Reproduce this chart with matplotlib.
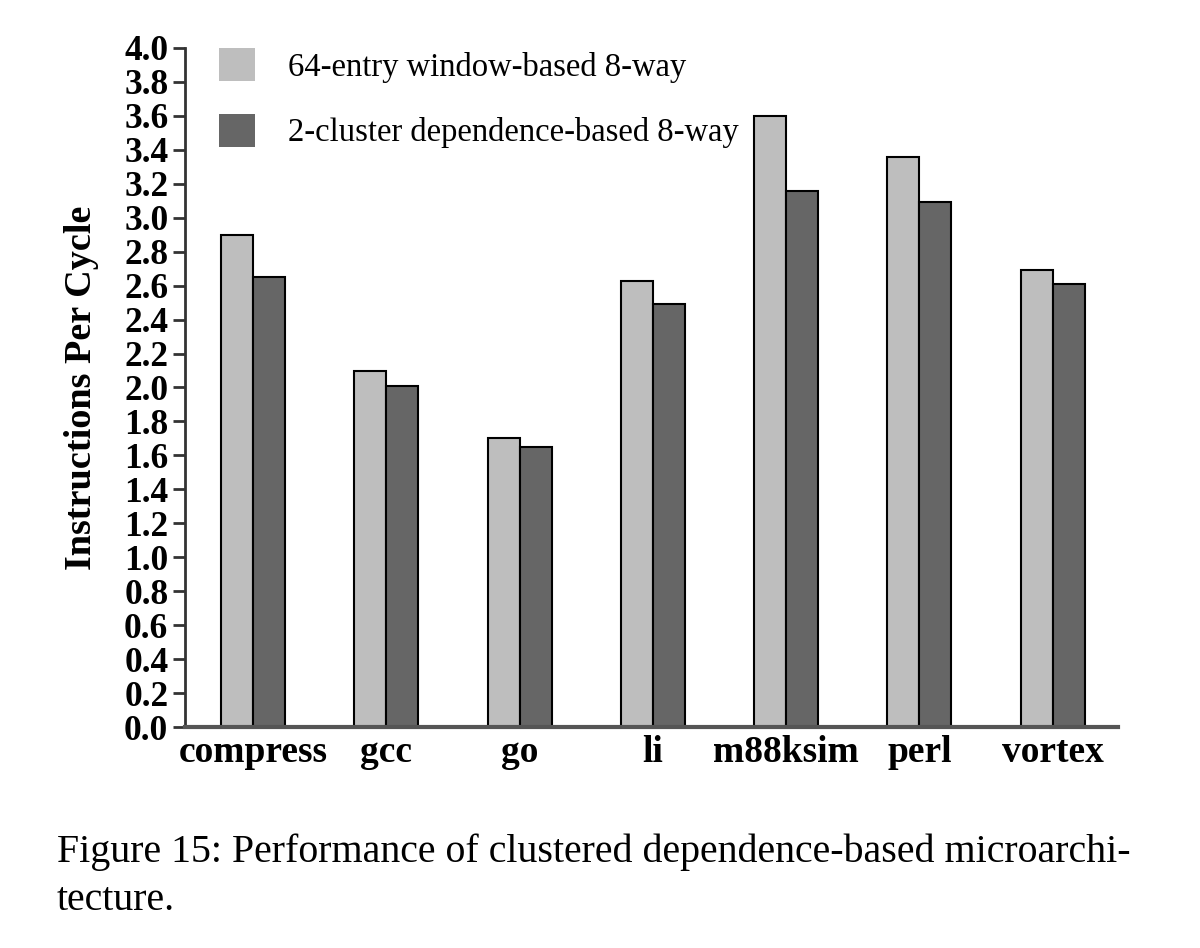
import matplotlib
matplotlib.use("Agg")
import matplotlib.pyplot as plt
import numpy as np

benchmarks = ["compress", "gcc", "go", "li", "m88ksim", "perl", "vortex"]
window_8way = [2.90, 2.10, 1.70, 2.63, 3.60, 3.36, 2.69]
cluster_8way = [2.65, 2.01, 1.65, 2.49, 3.16, 3.09, 2.61]
series_labels = ["64-entry window-based 8-way", "2-cluster dependence-based 8-way"]
yticks = [round(0.2 * i, 1) for i in range(21)]

plt.rcParams['font.family'] = ['Liberation Serif', 'DejaVu Serif']

fig = plt.figure(figsize=(12, 9.48), dpi=100)
ax = fig.add_axes([0.1542, 0.2331, 0.7775, 0.7163])

x = np.arange(len(benchmarks))
w = 0.24
ax.bar(x - w / 2, window_8way, w, color="#bebebe", edgecolor="black", linewidth=1.5,
       label=series_labels[0])
ax.bar(x + w / 2, cluster_8way, w, color="#666666", edgecolor="black", linewidth=1.5,
       label=series_labels[1])

ax.set_xlim(-0.51, 6.49)
ax.set_ylim(0, 4.0)
ax.set_yticks(yticks)
ax.set_yticklabels([f"{t:.1f}" for t in yticks], fontsize=25.5, fontweight="bold")
ax.set_xticks(x)
ax.set_xticklabels(benchmarks, fontsize=27, fontweight="bold")
ax.tick_params(axis="x", length=0, pad=6)
ax.tick_params(axis="y", length=9, width=2, color="#333333", pad=3)
ax.set_ylabel("Instructions Per Cycle", fontsize=27.5, fontweight="bold", labelpad=18)

for s in ["top", "right"]:
    ax.spines[s].set_visible(False)
ax.spines["left"].set_color("#333333")
ax.spines["left"].set_linewidth(2)
ax.spines["bottom"].set_color("#555555")
ax.spines["bottom"].set_linewidth(3)

leg = ax.legend(loc="upper left", bbox_to_anchor=(0.0364, 1.0), frameon=False,
                fontsize=23.5, handlelength=1.1, handleheight=1.2, handletextpad=1.0,
                labelspacing=0.95, borderpad=0, borderaxespad=0)
for h in leg.legend_handles:
    h.set_edgecolor("none")

fig.text(0.0475, 1 - 852 / 948, "Figure 15: Performance of clustered dependence-based microarchi-",
         fontsize=28.7, va="center", ha="left")
fig.text(0.0475, 1 - 900 / 948, "tecture.", fontsize=28.7, va="center", ha="left")

fig.savefig("out.png", dpi=100)
